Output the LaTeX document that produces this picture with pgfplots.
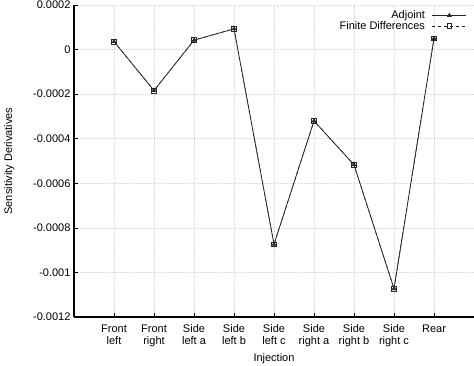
\documentclass[border=0pt]{standalone}
\usepackage{pgfplots}
\pgfplotsset{compat=1.18}
\usepackage{fontspec}
\setmainfont{Liberation Sans}
\begin{document}
\begin{tikzpicture}[x=1pt,y=1pt]
\useasboundingbox (0,0) rectangle (474,366);
\clip (0,0) rectangle (474,366);
\begin{axis}[
  at={(74pt,49pt)}, anchor=south west,
  scale only axis, width=400pt, height=312pt,
  xmin=0, xmax=10, ymin=-0.0012, ymax=0.0002,
  axis x line*=bottom, axis y line*=left,
  axis line style={line width=1.2pt, -},
  xtick={1,2,3,4,5,6,7,8,9},
  xticklabels={Front\\left,Front\\right,Side\\left a,Side\\left b,Side\\left c,Side\\right a,Side\\right b,Side\\right c,Rear},
  xticklabel style={align=center, font=\fontsize{11}{12}\selectfont, yshift=-4pt},
  ytick={-0.0012,-0.001,-0.0008,-0.0006,-0.0004,-0.0002,0,0.0002},
  yticklabels={-0.0012,-0.001,-0.0008,-0.0006,-0.0004,-0.0002,0,0.0002},
  yticklabel style={font=\fontsize{11}{12}\selectfont},
  scaled y ticks=false,
  tick align=inside, major tick length=4pt, tick style={black, line width=0.6pt},
  grid=major, grid style={gray!25, densely dotted, line width=0.5pt},
  xlabel={Injection}, ylabel={Sensitivity Derivatives},
  label style={font=\fontsize{11}{12}\selectfont},
  xlabel style={yshift=0pt},
  ylabel style={yshift=12pt},
  legend style={at={(0.99,0.995)}, anchor=north east, draw=none, fill=none,
    font=\fontsize{11}{12}\selectfont, row sep=-3pt, column sep=5pt},
  legend cell align=right, legend plot pos=right,
  legend image code/.code={\draw[mark repeat=2,mark phase=2,#1] plot coordinates {(0pt,0pt)(17pt,0pt)(34pt,0pt)};},
]
\addplot[black!85, line width=0.8pt, mark=triangle*, mark size=2pt, mark options={solid}]
coordinates {(1,3.6e-5)(2,-1.84e-4)(3,4.2e-5)(4,9.3e-5)(5,-8.74e-4)(6,-3.2e-4)(7,-5.17e-4)(8,-1.073e-3)(9,5.0e-5)};
\addlegendentry{Adjoint}
\addplot[black!85, dashed, line width=0.6pt, mark=square, mark size=2.4pt, mark options={solid, line width=0.8pt}]
coordinates {(1,3.6e-5)(2,-1.84e-4)(3,4.2e-5)(4,9.3e-5)(5,-8.74e-4)(6,-3.2e-4)(7,-5.17e-4)(8,-1.073e-3)(9,5.0e-5)};
\addlegendentry{Finite Differences}
\end{axis}
\end{tikzpicture}
\end{document}
